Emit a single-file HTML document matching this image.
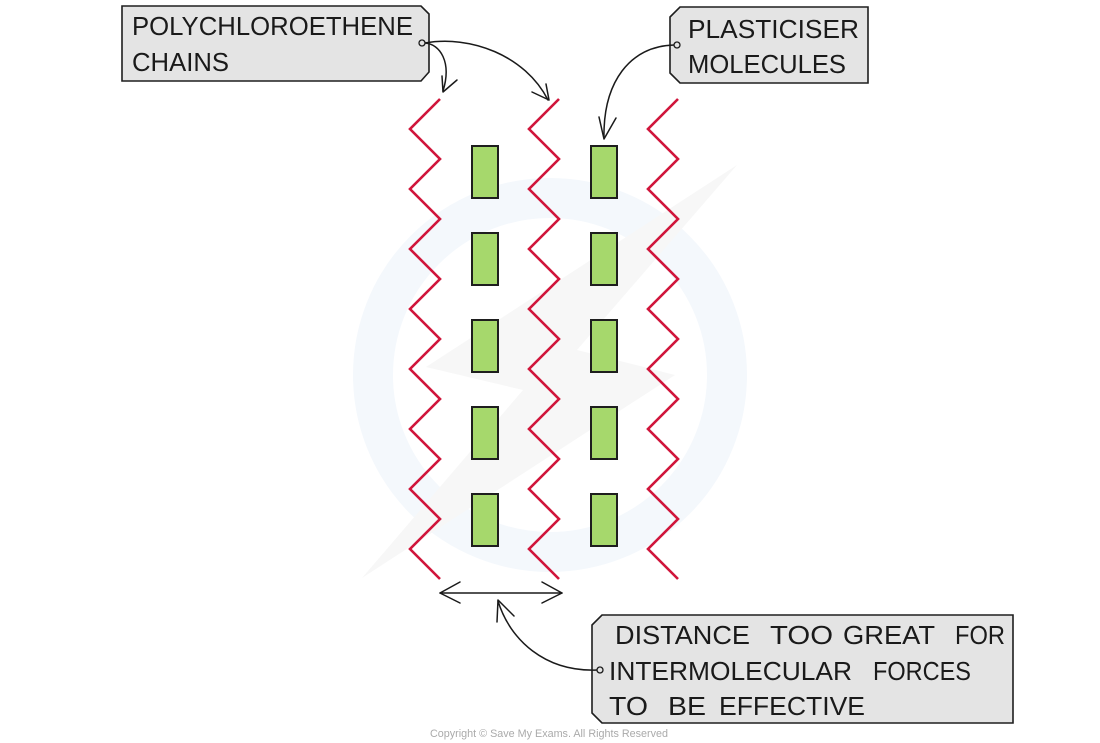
<!DOCTYPE html>
<html>
<head>
<meta charset="utf-8">
<style>
html,body{margin:0;padding:0;background:#fff;}
svg{display:block;}
text{font-family:"Liberation Sans",sans-serif;fill:#1a1a1a;}
</style>
</head>
<body>
<svg width="1100" height="743" viewBox="0 0 1100 743" xmlns="http://www.w3.org/2000/svg">
  <!-- watermark -->
  <circle cx="550" cy="375" r="177" fill="none" stroke="#f4f8fc" stroke-width="40"/>
  <polygon points="737,165 426,367 523,390 362,578 675,375 577,350" fill="#f7f7f7"/>

  <!-- zigzag chains -->
  <g fill="none" stroke="#d0153b" stroke-width="2.6" stroke-linejoin="miter">
    <polyline points="440,99 410,129 440,159 410,189 440,219 410,249 440,279 410,309 440,339 410,369 440,399 410,429 440,459 410,489 440,519 410,549 440,579"/>
    <polyline points="559,99 529,129 559,159 529,189 559,219 529,249 559,279 529,309 559,339 529,369 559,399 529,429 559,459 529,489 559,519 529,549 559,579"/>
    <polyline points="678,99 648,129 678,159 648,189 678,219 648,249 678,279 648,309 678,339 648,369 678,399 648,429 678,459 648,489 678,519 648,549 678,579"/>
  </g>

  <!-- plasticiser rectangles -->
  <g fill="#a6d86c" stroke="#1e1e1e" stroke-width="2">
    <rect x="472" y="146" width="26" height="52"/>
    <rect x="472" y="233" width="26" height="52"/>
    <rect x="472" y="320" width="26" height="52"/>
    <rect x="472" y="407" width="26" height="52"/>
    <rect x="472" y="494" width="26" height="52"/>
    <rect x="591" y="146" width="26" height="52"/>
    <rect x="591" y="233" width="26" height="52"/>
    <rect x="591" y="320" width="26" height="52"/>
    <rect x="591" y="407" width="26" height="52"/>
    <rect x="591" y="494" width="26" height="52"/>
  </g>

  <!-- label boxes -->
  <g fill="#e4e4e4" stroke="#1e1e1e" stroke-width="1.6">
    <path d="M122,6 L421,6 L429,14 L429,72 L421,81 L122,81 Z"/>
    <path d="M680,7 L868,7 L868,83 L680,83 L670,73 L670,17 Z"/>
    <path d="M602,615 L1013,615 L1013,723 L602,723 L592,713 L592,625 Z"/>
  </g>

  <!-- label texts -->
  <g font-size="26">
    <text x="132" y="35" textLength="281" lengthAdjust="spacingAndGlyphs">POLYCHLOROETHENE</text>
    <text x="132" y="71" textLength="97" lengthAdjust="spacingAndGlyphs">CHAINS</text>

    <text x="688" y="38" textLength="171" lengthAdjust="spacingAndGlyphs">PLASTICISER</text>
    <text x="688" y="73" textLength="158" lengthAdjust="spacingAndGlyphs">MOLECULES</text>

    <text x="615" y="644" textLength="135" lengthAdjust="spacingAndGlyphs">DISTANCE</text>
    <text x="770" y="644" textLength="63" lengthAdjust="spacingAndGlyphs">TOO</text>
    <text x="843" y="644" textLength="92" lengthAdjust="spacingAndGlyphs">GREAT</text>
    <text x="955" y="644" textLength="50" lengthAdjust="spacingAndGlyphs">FOR</text>

    <text x="609" y="680" textLength="243" lengthAdjust="spacingAndGlyphs">INTERMOLECULAR</text>
    <text x="873" y="680" textLength="98" lengthAdjust="spacingAndGlyphs">FORCES</text>

    <text x="609" y="715" textLength="39" lengthAdjust="spacingAndGlyphs">TO</text>
    <text x="668" y="715" textLength="38" lengthAdjust="spacingAndGlyphs">BE</text>
    <text x="719" y="715" textLength="146" lengthAdjust="spacingAndGlyphs">EFFECTIVE</text>
  </g>

  <!-- connectors -->
  <g fill="none" stroke="#1a1a1a" stroke-width="1.5" stroke-linecap="round" stroke-linejoin="round">
    <path d="M425,43 C 440,44 452,62 443,91"/>
    <path d="M442,76 L443,92 L457,80"/>
    <path d="M425,43 C 470,35 525,55 548,100"/>
    <path d="M532,92 L549,100 L546,84"/>

    <path d="M674,45 C 630,46 603,82 604,138"/>
    <path d="M599,117 L604,139 L616,118"/>

    <path d="M440,593 L562,593"/>
    <path d="M460,582 L440,593 L460,603"/>
    <path d="M542,582 L562,593 L542,603"/>

    <path d="M597,670 C 545,672 510,640 498,601"/>
    <path d="M497,622 L498,600 L514,616"/>
  </g>
  <g fill="#e4e4e4" stroke="#1a1a1a" stroke-width="1.3">
    <circle cx="422" cy="43" r="3"/>
    <circle cx="677" cy="45" r="3"/>
    <circle cx="600" cy="670" r="3"/>
  </g>

  <!-- copyright -->
  <text x="430" y="737" font-size="11" textLength="238" lengthAdjust="spacingAndGlyphs" style="fill:#aaaaaa">Copyright © Save My Exams. All Rights Reserved</text>
</svg>
</body>
</html>
